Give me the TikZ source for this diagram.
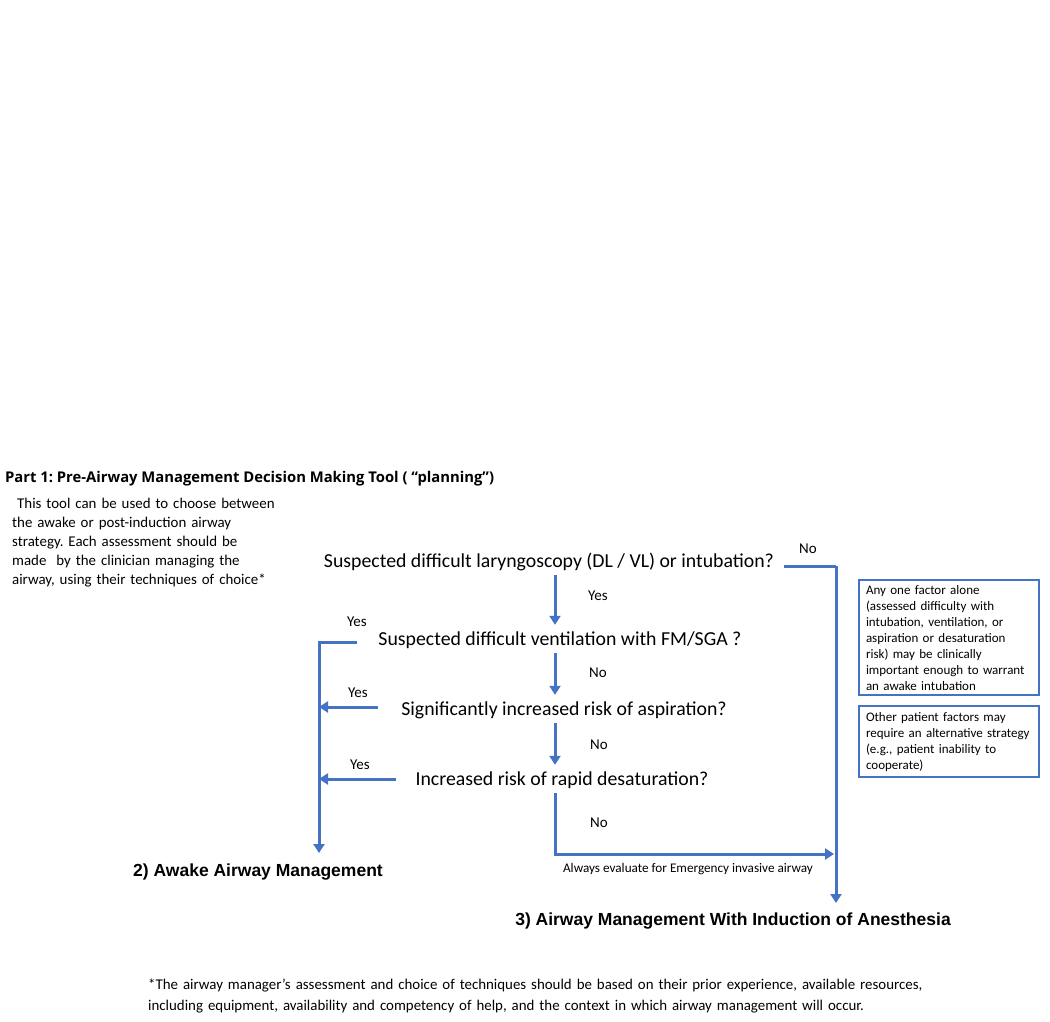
\documentclass[tikz,border=0pt]{standalone}
\usepackage{fontspec}
\setmainfont{Carlito}
\newfontfamily\titlefont{Open Sans}
\newfontfamily\headfont{Liberation Sans}
\usepackage{xcolor}
\definecolor{azulflujo}{RGB}{68,114,196}
\usetikzlibrary{positioning,arrows.meta,calc}
\frenchspacing

\begin{document}
\begin{tikzpicture}[
    x=1pt, y=-1pt,
    question/.style={anchor=base, inner xsep=0pt, inner ysep=2pt,
      text height=18pt, text depth=6pt, font=\fontsize{19.8}{23}\selectfont},
    answer/.style={inner sep=0pt, font=\fontsize{15}{17}\selectfont},
    outcome/.style={inner sep=0pt, font=\headfont\bfseries\fontsize{17.5}{20}\selectfont},
    notebox/.style={rectangle, draw=azulflujo, line width=2pt, text width=166pt,
      align=left, inner xsep=7pt, inner ysep=5pt, anchor=north west,
      font=\fontsize{13}{16}\selectfont},
    flow/.style={draw=azulflujo, line width=3pt},
    >={Triangle[length=9pt,width=11pt]}
  ]
  \useasboundingbox (0,0) rectangle (1050,1021);

  % heading and intro
  \node[anchor=base west, inner sep=0pt, font=\titlefont\bfseries\fontsize{14.8}{17}\selectfont]
    (title) at (5,482) {Part 1: Pre-Airway Management Decision Making Tool ( “planning”)};
  \node[anchor=north west, inner sep=0pt, text width=280pt, align=left,
    font=\fontsize{14.9}{19}\selectfont] (intro) at (12,498)
    {\hspace*{5pt}This tool can be used to choose between\\
     the awake or post-induction airway\\
     strategy. Each assessment should be\\
     made\ \ by the clinician managing the\\
     airway, using their techniques of choice*};

  % questions
  \node[question] (q1) at (549,567) {Suspected difficult laryngoscopy (DL / VL) or intubation?};
  \node[question] (q2) at (560,645) {Suspected difficult ventilation with FM/SGA ?};
  \node[question] (q3) at (564,715) {Significantly increased risk of aspiration?};
  \node[question] (q4) at (562,785) {Increased risk of rapid desaturation?};

  % outcomes
  \node[outcome] (awake) at (258,872) {2) Awake Airway Management};
  \node[outcome] (induction) at (733,921) {3) Airway Management With Induction of Anesthesia};

  % side notes
  \node[notebox] (factorbox) at (858,579)
    {Any one factor alone\\
     (assessed difficulty with\\
     intubation, ventilation, or\\
     aspiration or desaturation\\
     risk) may be clinically\\
     important enough to warrant\\
     an awake intubation};
  \node[notebox, inner ysep=6pt, below=9pt of factorbox.south west, anchor=north west] (otherbox)
    {Other patient factors may\\
     require an alternative strategy\\
     (e.g., patient inability to\\
     cooperate)};

  % connector columns
  \coordinate (dcol) at (555,0);
  \coordinate (lcol) at (319,642);
  \coordinate (rcol) at (836,566);
  \coordinate (awakedrop) at (319,853);
  \coordinate (inddrop) at (836,903);
  \coordinate (evaljoin) at (834,854);

  % connectors
  \draw[flow,->] (q1.south -| dcol) -- (q2.north -| dcol);
  \draw[flow,->] (q2.south -| dcol) -- (q3.north -| dcol);
  \draw[flow,->] (q3.south -| dcol) -- (q4.north -| dcol);
  \draw[flow,->] (q4.south -| dcol) |- (evaljoin);
  \draw[flow] ([xshift=10pt]q1.east |- rcol) -- (rcol);
  \draw[flow,->] (rcol) -- (inddrop);
  \draw[flow,->] ([xshift=-21pt]q2.west |- lcol) -| (awakedrop);
  \draw[flow,->] ([xshift=-23pt]q3.west |- 0,707) -- (lcol |- 0,707);
  \draw[flow,->] ([xshift=-19pt]q4.west |- 0,779) -- (lcol |- 0,779);

  % answers
  \node[answer] (n1) at (808,549) {No};
  \node[answer] (y1) at (598,596) {Yes};
  \node[answer] (y2) at (357,622) {Yes};
  \node[answer] (n2) at (598,673) {No};
  \node[answer] (y3) at (358,693) {Yes};
  \node[answer] (n3) at (599,745) {No};
  \node[answer] (y4) at (360,765) {Yes};
  \node[answer] (n4) at (599,823) {No};
  \node[inner sep=0pt, font=\fontsize{13.2}{15}\selectfont] (evalnote) at (688,869)
    {Always evaluate for Emergency invasive airway};

  % footnote
  \node[anchor=north west, inner sep=0pt, text width=880pt, align=left,
    font=\fontsize{14.9}{21}\selectfont] (foot) at (148,979)
    {*The airway manager’s assessment and choice of techniques should be based on their prior experience, available resources,\\
     including equipment, availability and competency of help, and the context in which airway management will occur.};
\end{tikzpicture}
\end{document}
